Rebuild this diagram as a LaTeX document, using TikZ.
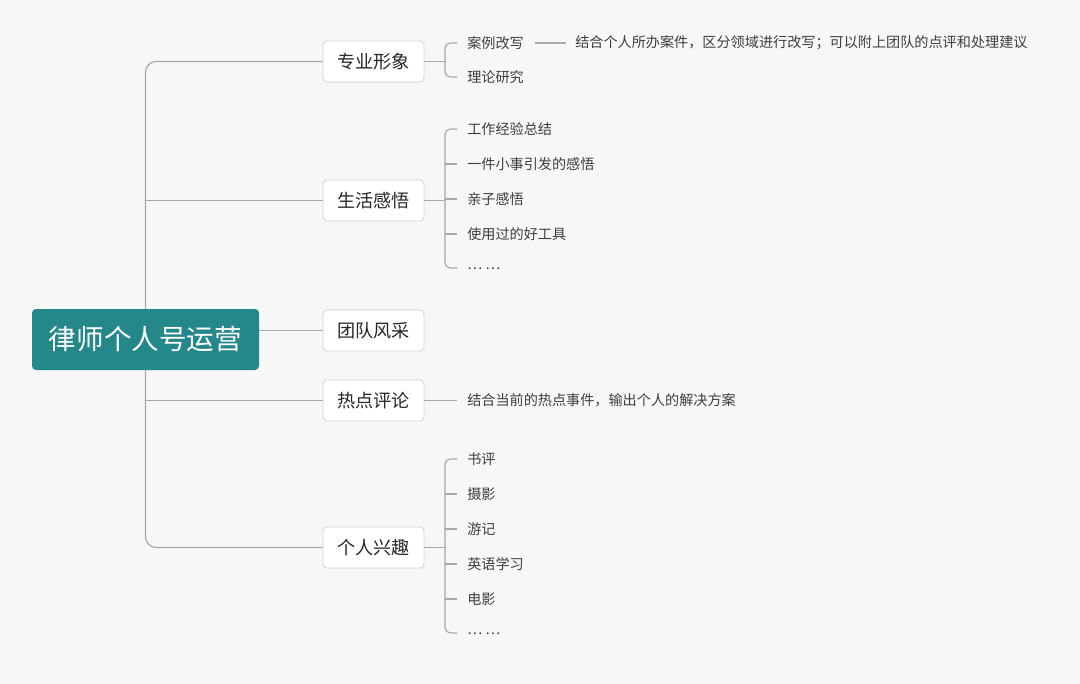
\documentclass[tikz,border=0pt]{standalone}
\usepackage{fontspec}
\setmainfont{Noto Sans CJK SC}
\definecolor{bggray}{RGB}{247,247,247}
\definecolor{rootteal}{RGB}{36,135,138}
\definecolor{linegray}{RGB}{168,168,168}
\definecolor{boxline}{RGB}{210,210,210}
\definecolor{leaftext}{RGB}{62,62,62}
\tikzset{
	rootbox/.style={fill=rootteal, rounded corners=3pt, text=white, minimum width=170.25pt, minimum height=45.75pt, inner sep=0pt, font=\fontsize{20.7}{24}\selectfont},
	topicbox/.style={fill=white, draw=boxline, line width=0.6pt, rounded corners=3pt, minimum width=75.75pt, minimum height=30.75pt, inner sep=0pt, text=black!85, font=\fontsize{13.6}{16}\selectfont},
	leaf/.style={anchor=west, inner sep=0pt, text=leaftext, font=\fontsize{10.6}{12}\selectfont},
	link/.style={draw=linegray, line width=0.9pt, rounded corners=4pt},
}
\begin{document}
\begin{tikzpicture}[x=0.75pt, y=-0.75pt]
		%Background and page size
		\fill[bggray] (0,0) rectangle (1080,684);
		\useasboundingbox (0,0) rectangle (1080,684);
		%Centres of the root and of the five topics
		\coordinate (rootc) at (145.5,339.5);
		\coordinate (zyc) at (373.5,61.5);
		\coordinate (shc) at (373.5,200.5);
		\coordinate (tdc) at (373.5,330.5);
		\coordinate (rdc) at (373.5,400.5);
		\coordinate (xqc) at (373.5,547.5);
		%Bracket junctions
		\coordinate (zyj) at (445,61.5);
		\coordinate (shj) at (445,200.5);
		\coordinate (xqj) at (445,547.5);
		%Topics
		\node [topicbox] (zy) at (zyc) {专业形象};
		\node [topicbox] (sh) at (shc) {生活感悟};
		\node [topicbox] (td) at (tdc) {团队风采};
		\node [topicbox] (rd) at (rdc) {热点评论};
		\node [topicbox] (xq) at (xqc) {个人兴趣};
		%Trunk from the root to the topics
		\draw [link, rounded corners=8pt] (zy.west) -| (rootc) |- (xq.west);
		\draw [link] (rootc |- sh.west) -- (sh.west);
		\draw [link] (rootc |- rd.west) -- (rd.west);
		%Root
		\node [rootbox] (root) at (rootc) {律师个人号运营};
		\draw [link] (root.east |- td.west) -- (td.west);
		%Leaves of 专业形象
		\node [leaf] (zy1) at (467,43) {案例改写};
		\node [leaf] (zy2) at (467,77) {理论研究};
		\node [leaf] (zy1d) at (575,43) {结合个人所办案件，区分领域进行改写；可以附上团队的点评和处理建议};
		\draw [link] (zy.east) -- (zyj);
		\draw [link] ([xshift=-7.5pt]zy1.west) -| (zyj) |- ([xshift=-7.5pt]zy2.west);
		\draw [link] ([xshift=8pt]zy1.east) -- ([xshift=-7pt]zy1d.west);
		%Leaves of 生活感悟
		\node [leaf] (sh1) at (467,129) {工作经验总结};
		\node [leaf] (sh2) at (467,164) {一件小事引发的感悟};
		\node [leaf] (sh3) at (467,199) {亲子感悟};
		\node [leaf] (sh4) at (467,234) {使用过的好工具};
		\node [leaf] (sh5) at (467,268) {\raisebox{-2pt}{…\ …}};
		\draw [link] (sh.east) -- (shj);
		\draw [link] ([xshift=-7.5pt]sh1.west) -| (shj) |- ([xshift=-7.5pt]sh5.west);
		\foreach \n in {sh2,sh3,sh4} {
			\draw [link] (shj |- \n.west) -- ([xshift=-7.5pt]\n.west);
		}
		%Leaf of 热点评论
		\node [leaf] (rd1) at (467,400.5) {结合当前的热点事件，输出个人的解决方案};
		\draw [link] (rd.east) -- ([xshift=-7.5pt]rd1.west);
		%Leaves of 个人兴趣
		\node [leaf] (xq1) at (467,459) {书评};
		\node [leaf] (xq2) at (467,494) {摄影};
		\node [leaf] (xq3) at (467,529) {游记};
		\node [leaf] (xq4) at (467,564) {英语学习};
		\node [leaf] (xq5) at (467,599) {电影};
		\node [leaf] (xq6) at (467,633) {\raisebox{-2pt}{…\ …}};
		\draw [link] (xq.east) -- (xqj);
		\draw [link] ([xshift=-7.5pt]xq1.west) -| (xqj) |- ([xshift=-7.5pt]xq6.west);
		\foreach \n in {xq2,xq3,xq4,xq5} {
			\draw [link] (xqj |- \n.west) -- ([xshift=-7.5pt]\n.west);
		}
\end{tikzpicture}
\end{document}
